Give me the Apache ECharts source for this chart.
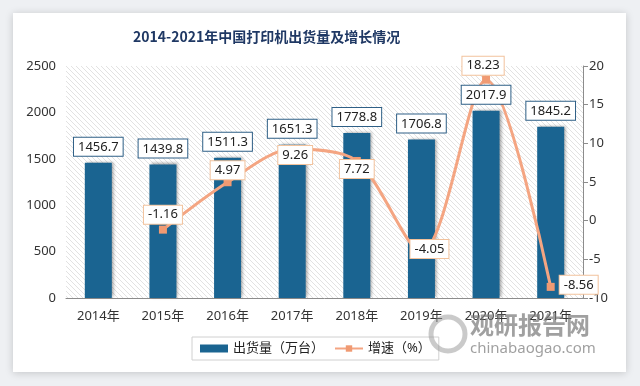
<!DOCTYPE html>
<html><head><meta charset="utf-8">
<script src="https://cdn.jsdelivr.net/npm/echarts@6/dist/echarts.min.js"></script>
<style>html,body{margin:0;padding:0;background:#eef0f3;}#c{width:640px;height:386px;}</style>
</head><body><div id="c"></div>
<script>
var categories = ['2014年','2015年','2016年','2017年','2018年','2019年','2020年','2021年'];
var shipments = [1456.7, 1439.8, 1511.3, 1651.3, 1778.8, 1706.8, 2017.9, 1845.2];
var growth = [null, -1.16, 4.97, 9.26, 7.72, -4.05, 18.23, -8.56];
var growthLabelOffsets = [[0,0],[0,-15],[0,-12],[3,6],[0,8],[8,-3],[-3,-14],[28,-2]];

var pc = document.createElement('canvas');
pc.width = 5; pc.height = 5;
var g = pc.getContext('2d');
g.fillStyle = '#ffffff'; g.fillRect(0,0,5,5);
g.strokeStyle = '#e2e2e2'; g.lineWidth = 1;
g.beginPath();
g.moveTo(-1,-1); g.lineTo(6,6);
g.moveTo(-1,4); g.lineTo(1,6);
g.moveTo(4,-1); g.lineTo(6,1);
g.stroke();

var chart = echarts.init(document.getElementById('c'), null, {renderer:'canvas'});
var font = '"Noto Sans", "Noto Sans CJK SC", sans-serif';
chart.setOption({
  backgroundColor: '#eef0f3',
  animation: false,
  graphic: [
    {type:'rect', z:-10, shape:{x:13,y:13,width:613,height:359}, style:{fill:'#ffffff', shadowBlur:8, shadowColor:'rgba(0,0,0,0.18)', shadowOffsetY:1}},
    {type:'text', z:10, left:470, top:313, style:{text:'观研报告网', fill:'rgba(120,120,120,0.7)', font:'bold 24px "Noto Sans CJK SC"'}},
    {type:'text', z:10, left:470, top:341, style:{text:'chinabaogao.com', fill:'rgba(120,120,120,0.7)', font:'15px "Noto Sans", sans-serif'}},
    {type:'circle', z:10, shape:{cx:448, cy:334, r:17}, style:{fill:'none', stroke:'rgba(150,150,150,0.5)', lineWidth:5}}
  ],
  title: {
    text: '2014-2021年中国打印机出货量及增长情况',
    left: 128, top: 25,
    textStyle: {fontFamily:'"Noto Sans CJK SC"', fontWeight:'bold', fontSize:14, color:'#1f3864'}
  },
  legend: {
    left: 192, top: 337, width: 255, height: 26,
    padding: [5, 8], itemGap: 10,
    borderColor: '#d0d0d0', borderWidth: 1, backgroundColor:'#fff',
    itemWidth: 28, itemHeight: 8,
    textStyle: {fontFamily: font, fontSize: 13, color:'#222'},
    data: [
      {name:'出货量（万台）', icon:'rect'},
      {name:'增速（%）'}
    ]
  },
  grid: {left: 66, right: 57, top: 66, bottom: 88, show: true, borderWidth: 0,
         backgroundColor: {image: pc, repeat: 'repeat'}},
  xAxis: {
    type: 'category', data: categories,
    axisLine: {lineStyle:{color:'#8c8c8c'}},
    axisTick: {show:false},
    axisLabel: {fontFamily: font, fontSize: 13, color:'#333', margin: 12}
  },
  yAxis: [
    {type:'value', min:0, max:2500, interval:500,
     axisLine:{show:false}, axisTick:{show:false}, splitLine:{show:false},
     axisLabel:{fontFamily: font, fontSize: 13, color:'#333', margin: 10, formatter: function(v){return String(v);}}},
    {type:'value', min:-10, max:20, interval:5, position:'right',
     axisLine:{show:true, lineStyle:{color:'#8c8c8c'}},
     axisTick:{show:true, length:5, lineStyle:{color:'#8c8c8c'}},
     splitLine:{show:false},
     axisLabel:{fontFamily: font, fontSize: 13, color:'#333', margin: 6}}
  ],
  series: [
    {name:'出货量（万台）', type:'bar', data: shipments, barWidth: 27, z: 2,
     itemStyle:{color:'#1a6491', shadowColor:'rgba(0,0,0,0.35)', shadowBlur:3, shadowOffsetX:2, shadowOffsetY:-1}
    },
    {name:'增速（%）', type:'line', yAxisIndex:1, smooth:0.3, connectNulls:false,
     data: growth.map(function(v,i){
       return {value:v, label:{offset: growthLabelOffsets[i]}};
     }),
     symbol:'rect', symbolSize:8,
     lineStyle:{color:'#f4a582', width:3},
     itemStyle:{color:'#f09a72'},
     z: 5,
     label:{show:true, position:'inside', fontFamily: font, fontSize:13, color:'#222',
            backgroundColor:'#fff', borderColor:'#f2c29c', borderWidth:1, padding:[3,4,2,4],
            formatter: function(p){return p.value == null ? '' : p.value.toFixed(2);}}
    },
    {name:'shipLabels', type:'bar', data: shipments, barWidth: 27, barGap:'-100%', z: 8,
     itemStyle:{color:'rgba(0,0,0,0)'}, silent:true, tooltip:{show:false},
     label:{show:true, position:'top', distance:7, fontFamily: font, fontSize:13, color:'#222',
            backgroundColor:'#fff', borderColor:'#2e5f86', borderWidth:1, padding:[3,4,2,4],
            formatter: function(p){return p.value.toFixed(1);}}
    }
  ]
});
</script></body></html>
